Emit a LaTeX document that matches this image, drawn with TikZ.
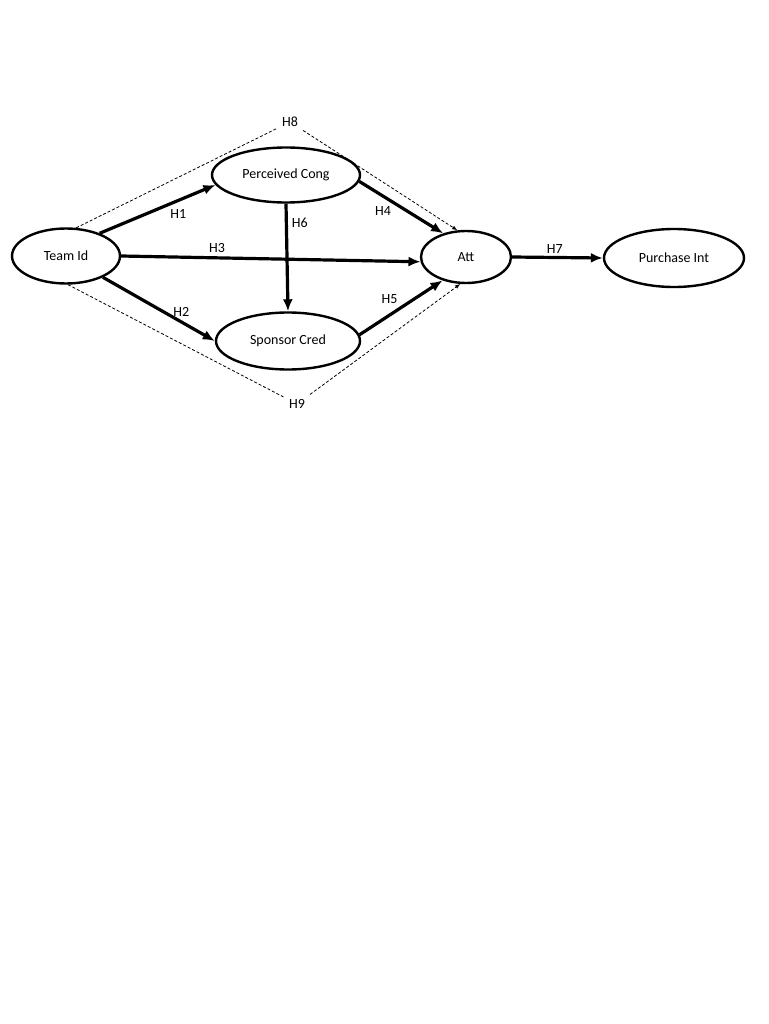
\documentclass[tikz,border=0pt]{standalone}
\usepackage{fontspec}
\setmainfont{Carlito}
\usetikzlibrary{shapes.geometric,arrows.meta}

\begin{document}
\begin{tikzpicture}[x=1pt,y=-1pt]
  \tikzset{construct/.style={
      ellipse, draw, line width=2.4pt, inner sep=0pt, font=\fontsize{14}{16}\selectfont
    },
    hyparrow/.style={-{Latex[length=12pt,width=10pt]}, line width=3.2pt},
    mediation/.style={-latex, dash pattern=on 3pt off 2pt, line width=0.8pt},
    hyp/.style={font=\fontsize{14}{16}\selectfont, inner sep=2pt}
  }
  \useasboundingbox (0,0) rectangle (768,1024);

  \node[construct, minimum width=108pt, minimum height=55pt] (team) at (66,256) {Team Id};
  \node[construct, minimum width=148pt, minimum height=55pt] (cong) at (286,175) {Perceived Cong};
  \node[construct, minimum width=144pt, minimum height=57pt] (cred) at (288,341) {Sponsor Cred};
  \node[construct, minimum width=90pt, minimum height=52pt] (att) at (466,257) {Att};
  \node[construct, minimum width=140pt, minimum height=58pt] (purch) at (674,258) {Purchase Int};

  \node[hyp, inner sep=5pt] (h8) at (290,122) {H8};
  \node[hyp, inner sep=5pt] (h9) at (297,404) {H9};

  \draw[mediation, -] (team.70) -- (h8);
  \draw[mediation] (h8) -- (att.108);
  \draw[mediation, -] (team.-86) -- (h9);
  \draw[mediation] (h9) -- (att.-102);

  \draw[hyparrow] (team.34) -- (cong.188) node[hyp, pos=0.68, below=5pt] {H1};
  \draw[hyparrow] (team.-30) -- (cred.180) node[hyp, pos=0.7, above=2pt] {H2};
  \draw[hyparrow] (team.east) -- (att.186) node[hyp, pos=0.32, above=2pt] {H3};
  \draw[hyparrow] (cong.-5) -- (att.134) node[hyp, pos=0.42, below left=0pt] {H4};
  \draw[hyparrow] (cred.5) -- (att.225) node[hyp, pos=0.5, above left=0pt] {H5};
  \draw[hyparrow] (cong.south) -- (cred.north) node[hyp, pos=0.18, right=2pt] {H6};
  \draw[hyparrow] (att.east) -- (purch.west) node[hyp, pos=0.47, above] {H7};
\end{tikzpicture}
\end{document}
